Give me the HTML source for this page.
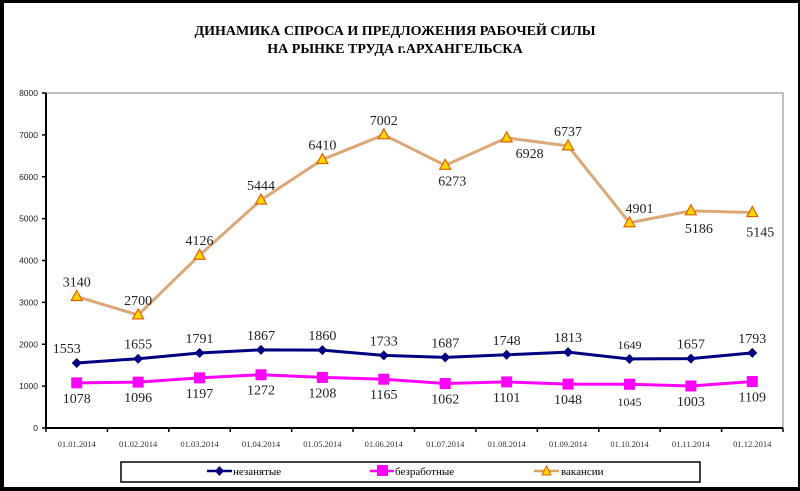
<!DOCTYPE html>
<html><head><meta charset="utf-8"><style>
html,body{margin:0;padding:0;background:#fff}
#wrap{position:relative;width:800px;height:491px;overflow:hidden;background:#000}
svg{position:absolute;left:0;top:0}
</style></head><body>
<div id="wrap">
<svg id="chart" width="800" height="491" xmlns="http://www.w3.org/2000/svg">
<rect x="4" y="3" width="794" height="484" fill="#fff"/>
<text x="395" y="35" text-anchor="middle" font-family="Liberation Serif, serif" font-weight="bold" font-size="14">ДИНАМИКА СПРОСА И ПРЕДЛОЖЕНИЯ РАБОЧЕЙ СИЛЫ</text>
<text x="395" y="53" text-anchor="middle" font-family="Liberation Serif, serif" font-weight="bold" font-size="14">НА РЫНКЕ ТРУДА г.АРХАНГЕЛЬСКА</text>
<g id="axes"></g>
<g id="series"></g>
<g>
<rect x="121" y="462" width="579" height="20" fill="#fff" stroke="#000" stroke-width="1.5"/>
<g>
<line x1="207" y1="471" x2="232" y2="471" stroke="#000080" stroke-width="2.5"/>
<path d="M219.5 466 L224 471 L219.5 476 L215 471 Z" fill="#000080"/>
<text x="233" y="475" font-family="Liberation Serif, serif" font-size="11">незанятые</text></g>
<g>
<line x1="370" y1="471" x2="394" y2="471" stroke="#ff00ff" stroke-width="2.5"/>
<rect x="377" y="465" width="11" height="11" fill="#ff00ff"/>
<text x="395" y="475" font-family="Liberation Serif, serif" font-size="11">безработные</text></g>
<g>
<line x1="534" y1="471" x2="559" y2="471" stroke="#e0a060" stroke-width="2.5"/>
<path d="M546.5 466 L551 475 L542 475 Z" fill="#ffd700" stroke="#e06000"/>
<text x="561" y="475" font-family="Liberation Serif, serif" font-size="11">вакансии</text></g>
</g>
</svg>
</div>
<script>
const categories=["01.01.2014","01.02.2014","01.03.2014","01.04.2014","01.05.2014","01.06.2014","01.07.2014","01.08.2014","01.09.2014","01.10.2014","01.11.2014","01.12.2014"];
const nezanyatye=[1553,1655,1791,1867,1860,1733,1687,1748,1813,1649,1657,1793];
const bezrabotnye=[1078,1096,1197,1272,1208,1165,1062,1101,1048,1045,1003,1109];
const vakansii=[3140,2700,4126,5444,6410,7002,6273,6928,6737,4901,5186,5145];
const yTicks=[0,1000,2000,3000,4000,5000,6000,7000,8000];
const NS="http://www.w3.org/2000/svg";
const L=46,R=783,T=93,B=428,YMAX=8000;
function xPos(i){return L+(R-L)/categories.length*(i+0.5);}
function yPos(v){return B-(B-T)*v/YMAX;}
function mk(tag,attrs,parent){const e=document.createElementNS(NS,tag);for(const k in attrs)e.setAttribute(k,attrs[k]);parent.appendChild(e);return e;}
const axes=document.getElementById('axes'),ser=document.getElementById('series');
const frame=mk('rect',{x:L,y:T,width:R-L,height:B-T,fill:'none',stroke:'#808080','stroke-width':1},axes);


mk('line',{x1:L,y1:T,x2:L,y2:B,stroke:'#000','stroke-width':2},axes);
mk('line',{x1:L,y1:B,x2:R,y2:B,stroke:'#000','stroke-width':2},axes);
yTicks.forEach(v=>{
  const y=yPos(v);
  mk('line',{x1:L-4,y1:y,x2:L,y2:y,stroke:'#000','stroke-width':1.5},axes);
  const t=mk('text',{x:L-8,y:y+3,'text-anchor':'end','font-family':'Liberation Sans, sans-serif','font-size':8.5,fill:'#222'},axes);
  t.textContent=v;
  
  
});
for(let i=0;i<=categories.length;i++){const x=L+(R-L)/categories.length*i;mk('line',{x1:x,y1:B,x2:x,y2:B+4,stroke:'#000','stroke-width':1.5},axes);}
categories.forEach((c,i)=>{
  const t=mk('text',{x:xPos(i),y:447,'text-anchor':'middle','font-family':'Liberation Serif, serif','font-size':8.5,fill:'#333'},axes);
  t.textContent=c;
  
  
});
function series(vals,color,marker,name,labelDy,labelDx,fs){
  const g=mk('g',{},ser);
  
  
  const pts=vals.map((v,i)=>xPos(i)+','+yPos(v)).join(' ');
  const pl=mk('polyline',{points:pts,fill:'none',stroke:color,'stroke-width':3},g);
  
  
  vals.forEach((v,i)=>{
    const x=xPos(i),y=yPos(v);let m;
    if(marker==='d')m=mk('path',{d:`M${x} ${y-5}L${x+5} ${y}L${x} ${y+5}L${x-5} ${y}Z`,fill:'#000080'},g);
    else if(marker==='s')m=mk('rect',{x:x-5.5,y:y-5.5,width:11,height:11,fill:'#ff00ff'},g);
    else m=mk('path',{d:`M${x} ${y-6}L${x+5.5} ${y+4}L${x-5.5} ${y+4}Z`,fill:'#ffd700',stroke:'#e06000','stroke-width':1.2},g);
    
    
    const t=mk('text',{x:x+labelDx[i],y:y+labelDy[i],'text-anchor':'middle','font-family':'Liberation Serif, serif','font-size':fs[i],fill:'#222'},g);
    t.textContent=v;
    
    
  });
}
series(vakansii,'#dca878','t','vakansii',[-10,-10,-10,-10,-10,-10,20,20,-10,-10,22,24],[0,0,0,0,0,0,7,23,0,10,8,8],[14,14,14,14,14,14,14,14,14,14,14,14]);
series(nezanyatye,'#000080','d','nezanyatye',[-10,-10,-10,-10,-10,-10,-10,-10,-10,-10,-10,-10],[-10,0,0,0,0,0,0,0,0,0,0,0],[14,14,14,14,14,14,14,14,14,12,14,14]);
series(bezrabotnye,'#ff00ff','s','bezrabotnye',[20,20,20,20,20,20,20,20,20,22,20,20],[0,0,0,0,0,0,0,0,0,0,0,0],[14,14,14,14,14,14,14,14,14,12,14,14]);
</script>
</body></html>
